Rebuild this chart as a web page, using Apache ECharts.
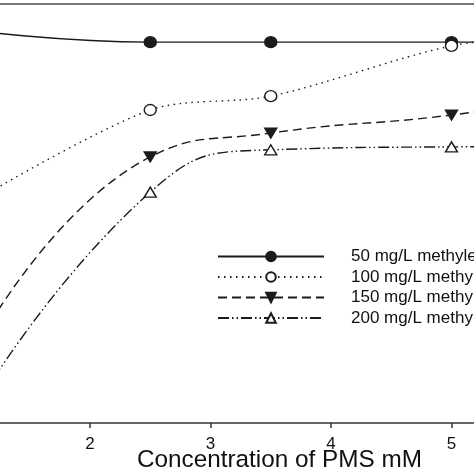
<!DOCTYPE html>
<html>
<head>
<meta charset="utf-8">
<script src="https://cdn.jsdelivr.net/npm/echarts@6/dist/echarts.min.js"></script>
<style>
  html, body { margin: 0; padding: 0; background: #fff; }
  #main { width: 474px; height: 474px; }
</style>
</head>
<body>
<div id="main"></div>
<script>
// PMS dose (mM); the picture is cropped, so 1 and 6 sit outside the frame
let pms = [1, 2.5, 3.5, 5, 6];

let names = ['50 mg/L methylene blue', '100 mg/L methylene blue', '150 mg/L methylene blue', '200 mg/L methylene blue'];

let mb50 = [93.8, 90.9, 90.9, 90.9, 90.9];
let mb100 = [52.3, 74.7, 78.0, 90.0, 93];
let mb150 = [15.5, 63.5, 69.2, 73.5, 78];
let mb200 = [1.5, 55.1, 65.2, 65.9, 66];

let xTicks = [0, 1, 2, 3, 4, 5, 6];

function pairs(ys) {
	return pms.map(function (x, i) { return [x, ys[i]]; });
}

let ink = '#1b1b1b';

function line(name, ys, dash, symbol, filled, size, smooth) {
	return {
		name: name,
		type: 'line',
		data: pairs(ys),
		smooth: smooth,
		symbol: symbol,
		symbolSize: size,
		showAllSymbol: true,
		lineStyle: { color: ink, width: 1.4, type: dash },
		itemStyle: {
			color: filled ? ink : '#fff',
			borderColor: ink,
			borderWidth: 1.4
		},
		emphasis: { disabled: true },
		z: 3
	};
}

let chart = echarts.init(document.getElementById('main'));

let option = {
	animation: false,
	backgroundColor: '#fff',
	title: {
		text: 'Concentration of PMS mM',
		left: 137,
		top: 448,
		padding: 0,
		textStyle: {
			fontFamily: 'Liberation Sans',
			fontSize: 24.3,
			fontWeight: 'normal',
			color: '#111'
		}
	},
	legend: {
		orient: 'vertical',
		left: 217,
		top: 248,
		padding: 0,
		itemWidth: 106,
		itemHeight: 12,
		itemGap: 3.5,
		data: names,
		textStyle: {
			fontFamily: 'Liberation Sans',
			fontSize: 17,
			color: '#111',
			padding: [0, 0, 0, 22]
		}
	},
	grid: { left: -151, right: -98, top: 4, bottom: 51, outerBoundsMode: 'none', containLabel: false },
	xAxis: [{
		type: 'value',
		min: 0,
		max: 6,
		interval: 1,
		axisLine: { lineStyle: { color: '#333', width: 1.5 } },
		axisTick: { show: true, length: 5, lineStyle: { color: '#333', width: 1.5 } },
		axisLabel: {
			margin: 13,
			fontFamily: 'Liberation Sans',
			fontSize: 17,
			color: '#111',
			formatter: function (v) { return xTicks.indexOf(v) >= 0 ? String(v) : ''; }
		},
		splitLine: { show: false }
	}, {
		type: 'value',
		position: 'top',
		min: 0,
		max: 6,
		axisLine: { show: true, lineStyle: { color: '#777', width: 2 } },
		axisTick: { show: false },
		axisLabel: { show: false },
		splitLine: { show: false }
	}],
	yAxis: {
		type: 'value',
		min: 0,
		max: 100,
		show: false
	},
	series: [
		line(names[0], mb50, 'solid', 'circle', true, [12, 11], 0.5),
		line(names[1], mb100, [1.5, 4.5], 'circle', false, [12, 11], 0.3),
		line(names[2], mb150, [9, 5], 'triangle', true, [12, 10], 0.5),
		line(names[3], mb200, [11, 3, 1.5, 3, 1.5, 3], 'triangle', false, [12, 10], 0.5)
	]
};

// filled marker of the 150 mg/L curve points down
option.series[2].symbolRotate = 180;

chart.setOption(option);
</script>
</body>
</html>
